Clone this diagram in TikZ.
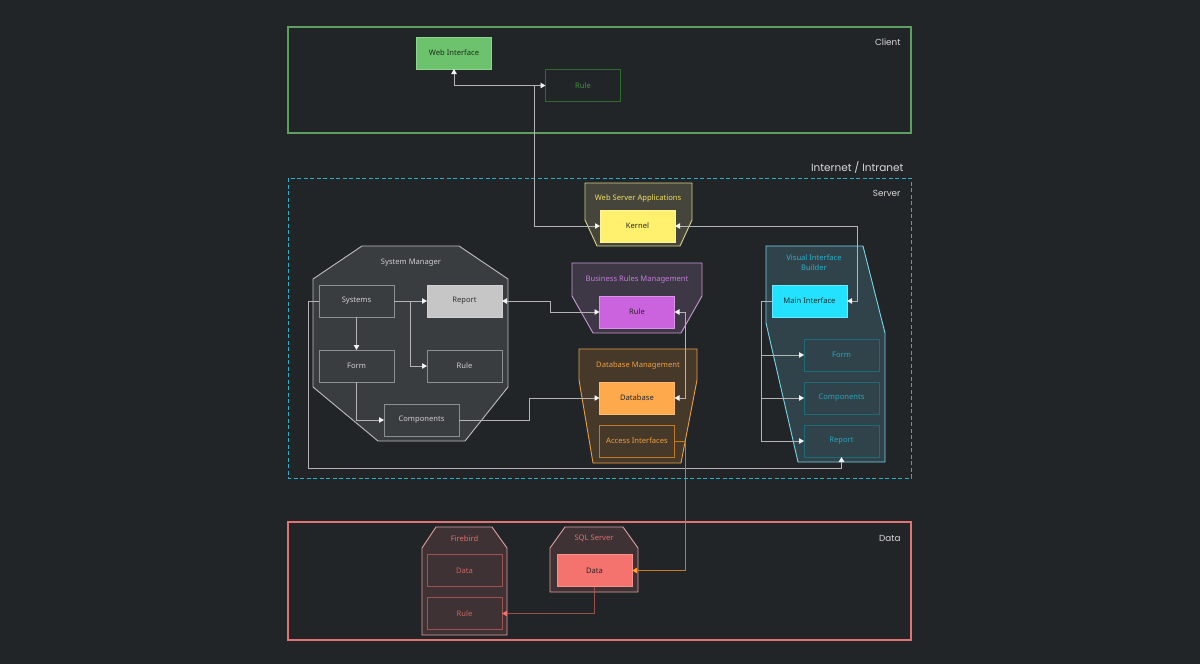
\documentclass[tikz,border=0pt]{standalone}
\usepackage{fontspec}
\setmainfont{Noto Sans}
\newfontfamily\headfont{Poppins}
\usetikzlibrary{arrows.meta}
\definecolor{bg}{HTML}{222528}
\definecolor{lgray}{HTML}{B4B4B4}
\definecolor{tipw}{HTML}{F2F2F2}
\definecolor{clientc}{HTML}{5E9E5E}
\definecolor{webfill}{HTML}{6DC26D}
\definecolor{webdraw}{HTML}{8ED48E}
\definecolor{webtext}{HTML}{1C2A1C}
\definecolor{cruledraw}{HTML}{2F6B2F}
\definecolor{cruletext}{HTML}{3F8F3F}
\definecolor{serverc}{HTML}{2BB0C8}
\definecolor{wsfill}{HTML}{46453B}
\definecolor{wsdraw}{HTML}{D8D28A}
\definecolor{wstext}{HTML}{F0E060}
\definecolor{kfill}{HTML}{FFF06E}
\definecolor{smfill}{HTML}{3A3D40}
\definecolor{smdraw}{HTML}{BDBDBD}
\definecolor{smbox}{HTML}{8C8F91}
\definecolor{smtext}{HTML}{CFCFCF}
\definecolor{repfill}{HTML}{C6C6C6}
\definecolor{brfill}{HTML}{3E3746}
\definecolor{brdraw}{HTML}{C79AD2}
\definecolor{brtext}{HTML}{C37ED6}
\definecolor{brrule}{HTML}{CC63DE}
\definecolor{dbfill}{HTML}{46392A}
\definecolor{dbdraw}{HTML}{E8A040}
\definecolor{dbtext}{HTML}{F0A040}
\definecolor{dbbox}{HTML}{FFA94D}
\definecolor{accdraw}{HTML}{C07A25}
\definecolor{vifill}{HTML}{30434A}
\definecolor{vidraw}{HTML}{79D6E6}
\definecolor{vitext}{HTML}{2AB0D0}
\definecolor{mifill}{HTML}{22E2FF}
\definecolor{vbdraw}{HTML}{1F6A78}
\definecolor{vbtext}{HTML}{2AA3BD}
\definecolor{datac}{HTML}{E07474}
\definecolor{fbfill}{HTML}{3E3234}
\definecolor{fbdraw}{HTML}{E0A0A0}
\definecolor{fbtext}{HTML}{E07070}
\definecolor{fbbox}{HTML}{A05252}
\definecolor{sqlfill}{HTML}{F5736F}
\definecolor{oline}{HTML}{C8781E}
\definecolor{otip}{HTML}{FF9E2C}
\definecolor{rline}{HTML}{9C4F4F}
\definecolor{rtip}{HTML}{F07070}
\tikzset{
  box/.style={rectangle, minimum width=75pt, minimum height=32pt, inner sep=0pt, outer sep=0pt, line width=0.8pt},
  tipg/.tip={Triangle[length=5pt,width=5.5pt,color=tipw]},
  conn/.style={draw=lgray, line width=0.8pt, -tipg},
  both/.style={draw=lgray, line width=0.8pt, tipg-tipg},
  plain/.style={draw=lgray, line width=0.8pt},
  connO/.style={draw=oline, line width=0.8pt, -{Triangle[length=5pt,width=5.5pt,color=otip]}},
  connR/.style={draw=rline, line width=0.8pt, -{Triangle[length=5pt,width=5.5pt,color=rtip]}},
  zone/.style={text=white!85!black, anchor=east},
}
\begin{document}
\begin{tikzpicture}[x=1pt,y=-1pt,font=\fontsize{7.6}{9}\selectfont]
\fill[bg] (0,0) rectangle (1200,664);
\useasboundingbox (0,0) rectangle (1200,664);

% zones
\draw[clientc, line width=1.2pt] (288,27) rectangle (911,133);
\node[zone, font=\headfont\fontsize{8.8}{10}\selectfont] (lclient) at (904,42.5) {Client};
\node[zone, font=\headfont\fontsize{10.5}{12}\selectfont] (linet) at (907,167) {Internet / Intranet};
\draw[serverc, line width=1pt, dash pattern=on 4pt off 2.5pt] (288,178) rectangle (911,478);
\node[zone, font=\headfont\fontsize{8.8}{10}\selectfont] (lserver) at (904,193.5) {Server};
\draw[datac, line width=1.2pt] (288,522) rectangle (911,640);
\node[zone, font=\headfont\fontsize{8.8}{10}\selectfont] (ldata) at (904,538.5) {Data};

% containers
\draw[fill=wsfill, draw=wsdraw, line width=0.9pt] (585,183) -- (692,183) -- (692,220) -- (680,246) -- (597,246) -- (585,220) -- cycle;
\node[text=wstext] (lws) at (638,198.5) {Web Server Applications};

\draw[fill=smfill, draw=smdraw, line width=0.9pt] (362,246) -- (459,246) -- (508,279) -- (508,387) -- (465,441) -- (378,441) -- (313,387) -- (313,279) -- cycle;
\node[text=smtext] (lsm) at (411,262.5) {System Manager};

\draw[fill=brfill, draw=brdraw, line width=0.9pt] (572,263) -- (702,263) -- (702,296) -- (681,333) -- (593,333) -- (572,296) -- cycle;
\node[text=brtext] (lbr) at (637,280) {Business Rules Management};

\draw[fill=dbfill, draw=dbdraw, line width=0.9pt] (579,349) -- (697,349) -- (697,380) -- (681,463) -- (593,463) -- (579,380) -- cycle;
\node[text=dbtext] (ldb) at (638,366) {Database Management};

\draw[fill=vifill, draw=vidraw, line width=0.9pt] (766,246) -- (863,246) -- (885,333) -- (885,462) -- (798,462) -- (766,323) -- cycle;
\node[text=vitext, align=center, font=\fontsize{7.6}{9.5}\selectfont] (lvi) at (814,262.5) {Visual Interface\\Builder};

\draw[fill=fbfill, draw=fbdraw, line width=0.9pt] (436,527) -- (492,527) -- (507,548) -- (507,635) -- (422,635) -- (422,548) -- cycle;
\node[text=fbtext] (lfb) at (464.5,538.5) {Firebird};

\draw[fill=fbfill, draw=fbdraw, line width=0.9pt] (565,527) -- (623,527) -- (638,548) -- (638,592) -- (550,592) -- (550,548) -- cycle;
\node[text=fbtext] (lsql) at (594,538.5) {SQL Server};

% nodes
\node[box, fill=webfill, draw=webdraw, text=webtext] (webi) at (454,53) {Web Interface};
\node[box, fill=bg, draw=cruledraw, text=cruletext] (crule) at (583,85.5) {Rule};
\node[box, fill=kfill, draw=kfill!70!white, text=black!85] (kernel) at (637.5,226) {Kernel};

\node[box, fill=smfill, draw=smbox, text=smtext] (systems) at (356.5,301) {Systems};
\node[box, fill=repfill, draw=repfill!80!white, text=black!80] (report) at (464.5,301) {Report};
\node[box, fill=smfill, draw=smbox, text=smtext] (form) at (356.5,366) {Form};
\node[box, fill=smfill, draw=smbox, text=smtext] (smrule) at (464.5,366) {Rule};
\node[box, fill=smfill, draw=smbox, text=smtext] (comp) at (421.5,420) {Components};

\node[box, fill=brrule, draw=brrule!70!white, text=black!85] (brr) at (637,312) {Rule};
\node[box, fill=dbbox, draw=dbbox!80!white, text=black!85] (db) at (637,398) {Database};
\node[box, fill=dbfill, draw=accdraw, text=dbtext] (acc) at (637,441) {Access Interfaces};

\node[box, fill=mifill, draw=mifill!70!white, text=black!85] (maini) at (809.5,301) {Main Interface};
\node[box, fill=vifill, draw=vbdraw, text=vbtext] (vform) at (841.5,355) {Form};
\node[box, fill=vifill, draw=vbdraw, text=vbtext] (vcomp) at (841.5,398) {Components};
\node[box, fill=vifill, draw=vbdraw, text=vbtext] (vreport) at (841.5,441) {Report};

\node[box, fill=fbfill, draw=fbbox, text=fbtext!90!black] (fbdata) at (464.5,570.5) {Data};
\node[box, fill=fbfill, draw=fbbox, text=fbtext!90!black] (fbrule) at (464.5,613.5) {Rule};
\node[box, fill=sqlfill, draw=sqlfill!80!white, text=black!85] (sqldata) at (594.5,570.5) {Data};

% connectors
\coordinate (j1) at (534,85.5);
\draw[conn] (j1) |- (kernel.west);
\draw[conn] (j1) -- (crule.west);
\draw[conn] (j1) -| (webi.south);
\draw[both] (kernel.east) -- ++(182,0) |- (maini.east);

\draw[conn] (systems.east) -- (report.west);
\coordinate (b1) at (410,301);
\draw[conn] (b1) |- (smrule.west);
\draw[conn] (systems.south) -- (form.north);
\draw[conn] (form.south) |- (comp.west);
\draw[conn] (comp.east) -- ++(70,0) |- (db.west);
\draw[both] (report.east) -- ++(48,0) |- (brr.west);
\draw[both] (brr.east) -- ++(10.5,0) |- (db.east);
\draw[conn] (systems.west) -- ++(-11,0) -- ++(0,167) -| (vreport.south);

\coordinate (mj) at (761,301);
\draw[plain] (maini.west) -- (mj);
\draw[conn] (mj) |- (vform.west);
\draw[conn] (mj) |- (vcomp.west);
\draw[conn] (mj) |- (vreport.west);

\draw[connO] (acc.east) -- ++(11,0) |- (sqldata.east);
\draw[connR] (sqldata.south) |- (fbrule.east);
\end{tikzpicture}
\end{document}
